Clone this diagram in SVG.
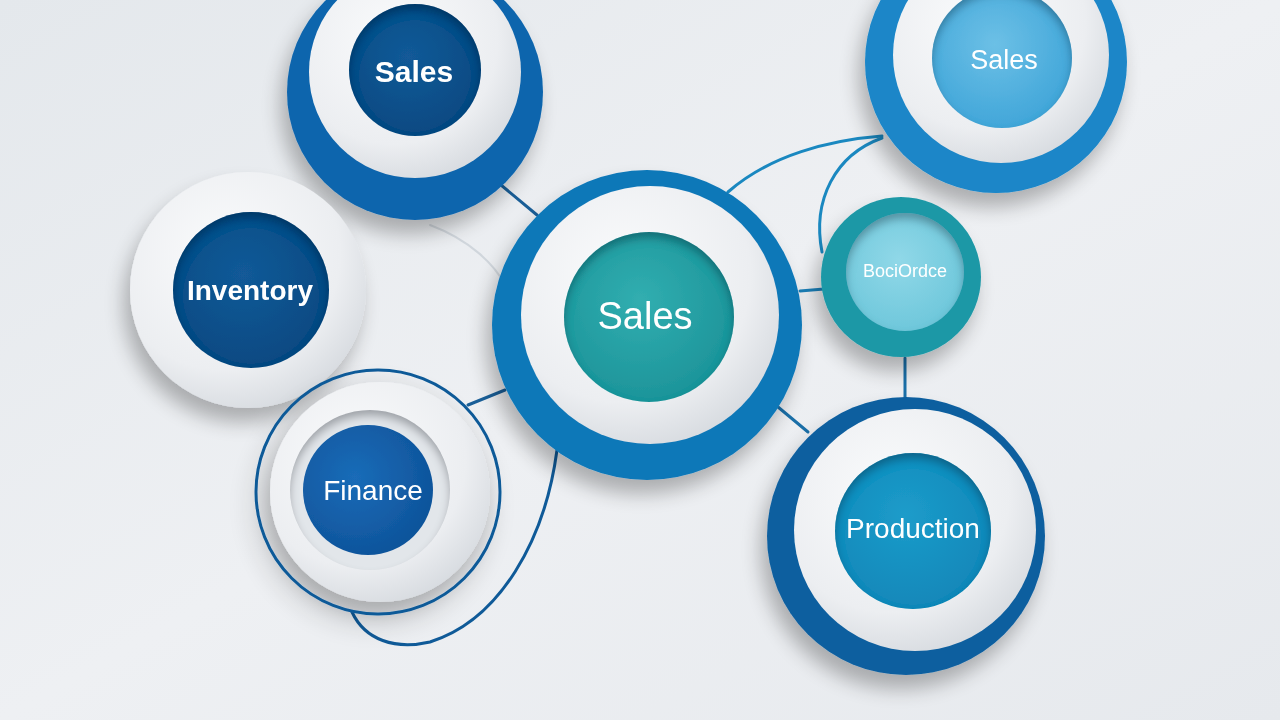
<svg xmlns="http://www.w3.org/2000/svg" width="1280" height="720" viewBox="0 0 1280 720">
<defs>
<linearGradient id="bg" x1="0" y1="0" x2="1" y2="1">
<stop offset="0" stop-color="#e4e8ec"/><stop offset="0.5" stop-color="#eef0f3"/><stop offset="1" stop-color="#e6e9ed"/>
</linearGradient>
<radialGradient id="ringW" cx="0.4" cy="0.35" r="0.7">
<stop offset="0" stop-color="#fafbfc"/><stop offset="0.7" stop-color="#eceef1"/><stop offset="1" stop-color="#d6dadf"/>
</radialGradient>
<radialGradient id="dkBlue" cx="0.45" cy="0.4" r="0.65">
<stop offset="0" stop-color="#125a98"/><stop offset="1" stop-color="#0a4880"/>
</radialGradient>
<radialGradient id="teal" cx="0.45" cy="0.4" r="0.65">
<stop offset="0" stop-color="#31aeb0"/><stop offset="1" stop-color="#1b9298"/>
</radialGradient>
<radialGradient id="ltBlue" cx="0.45" cy="0.4" r="0.65">
<stop offset="0" stop-color="#6cc0e6"/><stop offset="1" stop-color="#3ea4d8"/>
</radialGradient>
<radialGradient id="prodBlue" cx="0.45" cy="0.4" r="0.65">
<stop offset="0" stop-color="#1c9cca"/><stop offset="1" stop-color="#1186b8"/>
</radialGradient>
<radialGradient id="finBlue" cx="0.4" cy="0.4" r="0.65">
<stop offset="0" stop-color="#1a6cb8"/><stop offset="1" stop-color="#0e539a"/>
</radialGradient>
<radialGradient id="cyan" cx="0.45" cy="0.4" r="0.65">
<stop offset="0" stop-color="#90d8e8"/><stop offset="1" stop-color="#6cc6da"/>
</radialGradient>
<filter id="sh" x="-30%" y="-30%" width="160%" height="160%">
<feGaussianBlur in="SourceAlpha" stdDeviation="10"/>
<feOffset dx="-6" dy="14"/>
<feComponentTransfer><feFuncA type="linear" slope="0.28"/></feComponentTransfer>
<feMerge><feMergeNode/><feMergeNode in="SourceGraphic"/></feMerge>
</filter>
<filter id="recess" x="-10%" y="-10%" width="120%" height="120%">
<feFlood flood-color="#001a33" flood-opacity="0.55" result="f"/>
<feComposite in="f" in2="SourceAlpha" operator="out" result="o"/>
<feGaussianBlur in="o" stdDeviation="4" result="b"/>
<feOffset in="b" dx="0" dy="6" result="ob"/>
<feComposite in="ob" in2="SourceAlpha" operator="in" result="is"/>
<feMerge><feMergeNode in="SourceGraphic"/><feMergeNode in="is"/></feMerge>
</filter>
</defs>
<style>
.lbl{font-family:"Liberation Sans",Arial,sans-serif;fill:#ffffff;text-anchor:middle;dominant-baseline:central}
.b{font-weight:bold}
.conn{fill:none;stroke-linecap:round}
</style>
<rect width="1280" height="720" fill="url(#bg)"/>

<g id="connectors">
<path class="conn" d="M495 180 L537 215" stroke="#1a5f98" stroke-width="3"/>
<path class="conn" d="M468 405 L505 390" stroke="#1a5f98" stroke-width="3"/>
<path class="conn" d="M557 450 C545 540 500 620 430 642 C395 650 365 640 352 612" stroke="#0f5a98" stroke-width="3"/>
<path class="conn" d="M728 192 C770 155 830 140 882 136" stroke="#1a88c0" stroke-width="3"/>
<path class="conn" d="M882 138 C835 155 812 200 822 252" stroke="#1a88c0" stroke-width="3"/>
<path class="conn" d="M800 291 L824 289" stroke="#1a7fb8" stroke-width="3"/>
<path class="conn" d="M905 358 L905 400" stroke="#1a6fa8" stroke-width="3"/>
<path class="conn" d="M778 407 L808 432" stroke="#1a6fa8" stroke-width="3"/>
<path class="conn" d="M430 225 C470 240 495 265 505 285" stroke="#d0d6dc" stroke-width="2"/>
</g>

<g id="node-sales-top-left" filter="url(#sh)">
<circle cx="415" cy="92" r="128" fill="#0d65ad"/>
<circle cx="415" cy="72" r="106" fill="url(#ringW)"/>
<circle cx="415" cy="70" r="66" fill="url(#dkBlue)" filter="url(#recess)"/>
<text class="lbl b" x="414" y="71" font-size="30">Sales</text>
</g>

<g id="node-sales-top-right" filter="url(#sh)">
<circle cx="996" cy="62" r="131" fill="#1a86c8"/>
<circle cx="1001" cy="55" r="108" fill="url(#ringW)"/>
<circle cx="1002" cy="58" r="70" fill="url(#ltBlue)" filter="url(#recess)"/>
<text class="lbl" x="1004" y="60" font-size="27">Sales</text>
</g>

<g id="node-inventory" filter="url(#sh)">
<circle cx="248" cy="290" r="118" fill="url(#ringW)"/>
<circle cx="251" cy="290" r="78" fill="url(#dkBlue)" filter="url(#recess)"/>
<text class="lbl b" x="250" y="290" font-size="28">Inventory</text>
</g>

<g id="node-finance" filter="url(#sh)">
<circle cx="378" cy="492" r="122" fill="none" stroke="#0f5a98" stroke-width="3"/>
<circle cx="380" cy="492" r="110" fill="url(#ringW)"/>
<circle cx="370" cy="490" r="80" fill="#e2e6ea" filter="url(#recess)"/>
<circle cx="368" cy="490" r="65" fill="url(#finBlue)"/>
<text class="lbl" x="373" y="490" font-size="28">Finance</text>
</g>

<g id="node-sales-center" filter="url(#sh)">
<circle cx="647" cy="325" r="155" fill="#1178b8"/>
<circle cx="650" cy="315" r="129" fill="url(#ringW)"/>
<circle cx="649" cy="317" r="85" fill="url(#teal)" filter="url(#recess)"/>
<text class="lbl" x="645" y="316" font-size="38">Sales</text>
</g>

<g id="node-teal" filter="url(#sh)">
<circle cx="901" cy="277" r="80" fill="#1c98a6"/>
<circle cx="905" cy="272" r="59" fill="url(#cyan)" filter="url(#recess)"/>
<text class="lbl" x="905" y="271" font-size="18">BociOrdce</text>
</g>

<g id="node-production" filter="url(#sh)">
<circle cx="906" cy="536" r="139" fill="#0c5f9f"/>
<circle cx="915" cy="530" r="121" fill="url(#ringW)"/>
<circle cx="913" cy="531" r="78" fill="url(#prodBlue)" filter="url(#recess)"/>
<text class="lbl" x="913" y="528" font-size="28">Production</text>
</g>
</svg>
